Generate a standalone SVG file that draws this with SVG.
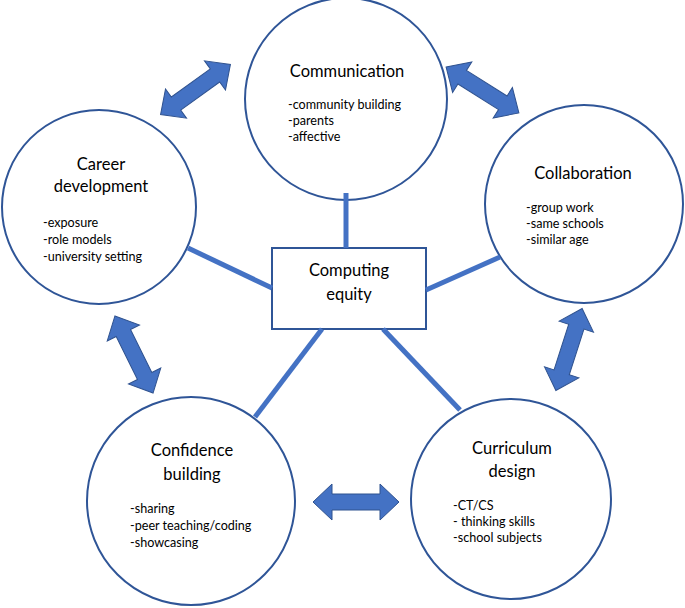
<svg xmlns="http://www.w3.org/2000/svg" xmlns:xlink="http://www.w3.org/1999/xlink" width="685" height="608" viewBox="0 0 685 608">
<style>
.circ{fill:#ffffff;stroke:#2F5597;stroke-width:2}
.box{fill:#ffffff;stroke:#2F5597;stroke-width:2}
.conn{stroke:#4472C4;stroke-width:5;fill:none}
.arr{fill:#4472C4;stroke:#2F528F;stroke-width:1}
.title{font-family:Lato,"Liberation Sans",sans-serif;font-size:16.5px;fill:#000;text-anchor:middle}
.item{font-family:Lato,"Liberation Sans",sans-serif;font-size:12.6px;fill:#000}
</style>
<defs>
<path id="dbl" d="M-43,0 L-24,-18 L-24,-8 L24,-8 L24,-18 L43,0 L24,18 L24,8 L-24,8 L-24,18 Z"/>
</defs>
<rect width="685" height="608" fill="#ffffff"/>
<g id="node-communication">
<circle class="circ" cx="346" cy="99" r="101"/>
<text class="title" x="347" y="77">Communication</text>
<text class="item" x="288" y="109">-community building</text>
<text class="item" x="288" y="125">-parents</text>
<text class="item" x="288" y="141">-affective</text>
</g>
<g id="node-career">
<circle class="circ" cx="99" cy="207" r="97"/>
<text class="title" x="101" y="170">Career</text>
<text class="title" x="101" y="192">development</text>
<text class="item" x="43" y="227">-exposure</text>
<text class="item" x="43" y="244">-role models</text>
<text class="item" x="43" y="261">-university setting</text>
</g>
<g id="node-collaboration">
<circle class="circ" cx="584" cy="204" r="99"/>
<text class="title" x="583" y="179">Collaboration</text>
<text class="item" x="526" y="212">-group work</text>
<text class="item" x="526" y="228">-same schools</text>
<text class="item" x="526" y="244">-similar age</text>
</g>
<g id="node-confidence">
<circle class="circ" cx="191" cy="501" r="104"/>
<text class="title" x="192" y="456">Confidence</text>
<text class="title" x="192" y="480">building</text>
<text class="item" x="130" y="513">-sharing</text>
<text class="item" x="130" y="530">-peer teaching/coding</text>
<text class="item" x="130" y="547">-showcasing</text>
</g>
<g id="node-curriculum">
<circle class="circ" cx="511" cy="499" r="100"/>
<text class="title" x="512" y="454">Curriculum</text>
<text class="title" x="512" y="477">design</text>
<text class="item" x="453" y="510">-CT/CS</text>
<text class="item" x="453" y="526">- thinking skills</text>
<text class="item" x="453" y="542">-school subjects</text>
</g>
<g id="node-center">
<rect class="box" x="272" y="248" width="154" height="81"/>
<text class="title" x="349" y="276">Computing</text>
<text class="title" x="349" y="300">equity</text>
</g>
<g id="connectors">
<line class="conn" x1="346" y1="193" x2="346" y2="248"/>
<line class="conn" x1="188" y1="248" x2="272" y2="288"/>
<line class="conn" x1="426" y1="290" x2="500" y2="257"/>
<line class="conn" x1="322" y1="329" x2="255" y2="417"/>
<line class="conn" x1="383" y1="329" x2="460" y2="410"/>
<use class="arr" xlink:href="#dbl" href="#dbl" transform="translate(195.5,89.5) rotate(-35.7)"/>
<use class="arr" xlink:href="#dbl" href="#dbl" transform="translate(482.5,90) rotate(32.2)"/>
<use class="arr" xlink:href="#dbl" href="#dbl" transform="translate(134,354.5) rotate(63.7)"/>
<use class="arr" xlink:href="#dbl" href="#dbl" transform="translate(569,349.5) rotate(107.8)"/>
<use class="arr" xlink:href="#dbl" href="#dbl" transform="translate(356,502)"/>
</g>
</svg>
